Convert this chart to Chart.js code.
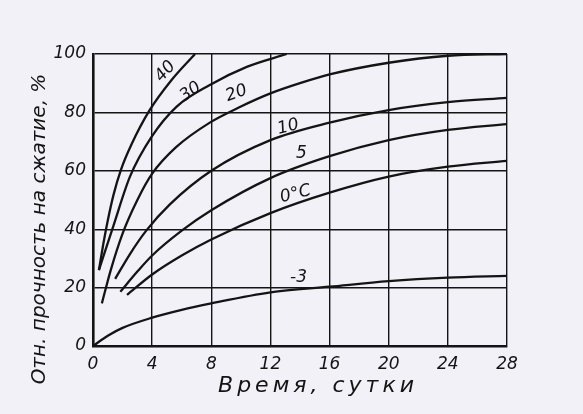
<!DOCTYPE html>
<html>
<head>
<meta charset="utf-8">
<script src="https://cdn.jsdelivr.net/npm/chart.js@4.4.1/dist/chart.umd.min.js"></script>
<style>
  html, body { margin: 0; padding: 0; background: #f2f1f7; }
  #wrap { width: 583px; height: 414px; }
</style>
</head>
<body>
<div id="wrap"><canvas id="strengthChart" width="583" height="414"></canvas></div>
<script>
// time, days
const xTicks = [0, 4, 8, 12, 16, 20, 24, 28];
const yTicks = [0, 20, 40, 60, 80, 100];

// curves: days and strength % for each temperature
const days40 = [0.4, 0.7, 1.0, 1.4, 1.9, 2.6, 3.8, 5.3, 6.9];
const str40  = [26, 35, 43, 52, 60.5, 69, 80.5, 91, 100];

const days30 = [0.4, 1.37, 2.5, 3.97, 5.66, 7.9, 10.4, 13.1];
const str30  = [26, 41, 58, 71.7, 82, 89.4, 95.6, 100];

const days20 = [0.6, 1.2, 2.0, 3.0, 4.0, 5.6, 7.9, 10, 12, 14, 16, 20, 24, 28];
const str20  = [14.6, 26, 38.5, 50, 59, 68, 76.5, 82, 86.5, 90, 93, 97, 99.4, 100];

const days10 = [1.5, 2.5, 3.6, 5.2, 8, 12, 16, 20, 24, 28];
const str10  = [23, 31.5, 39.5, 48.5, 60, 70.5, 76.5, 80.8, 83.5, 85];

const days5 = [1.85, 3, 4, 6, 8, 12, 16, 20, 24, 28];
const str5  = [18.6, 25.5, 31, 39.5, 46.5, 57.5, 65, 70.5, 74, 76];

const days0 = [2.3, 4, 6, 8, 12, 16, 20, 24, 28];
const str0  = [17.5, 24.5, 31, 36.5, 45.5, 52.5, 58, 61.4, 63.4];

const daysM3 = [0, 1, 2, 4, 6, 8, 12, 16, 20, 24, 28];
const strM3  = [0, 3.5, 6.2, 9.7, 12.4, 14.6, 18.4, 20.3, 22.2, 23.4, 24];

const curveNames = ["40", "30", "20", "10", "5", "0°C", "-3"];
const curveDays = [days40, days30, days20, days10, days5, days0, daysM3];
const curveStr = [str40, str30, str20, str10, str5, str0, strM3];

// where each temperature is written next to its curve (days, %, angle deg)
const labelAt = [
  [4.9, 94, -48],
  [6.6, 87, -35],
  [9.7, 86.5, -20],
  [13.2, 75, -14],
  [14.1, 66, 0],
  [13.7, 52, -14],
  [13.9, 23.5, 0]
];

const ink = "#141414";
const handFont = "'DejaVu Sans', sans-serif";

const datasets = curveNames.map(function (name, i) {
  return {
    label: name,
    data: curveDays[i].map(function (d, j) { return { x: d, y: curveStr[i][j] }; }),
    borderColor: ink,
    borderWidth: 2.3,
    pointRadius: 0,
    cubicInterpolationMode: "monotone",
    fill: false
  };
});

const curveLabels = {
  id: "curveLabels",
  afterDatasetsDraw(chart) {
    const ctx = chart.ctx;
    const xs = chart.scales.x, ys = chart.scales.y;
    ctx.save();
    ctx.fillStyle = ink;
    ctx.font = "italic 17px " + handFont;
    ctx.textAlign = "center";
    ctx.textBaseline = "middle";
    curveNames.forEach(function (name, i) {
      const p = labelAt[i];
      ctx.save();
      ctx.translate(xs.getPixelForValue(p[0]), ys.getPixelForValue(p[1]));
      ctx.rotate(p[2] * Math.PI / 180);
      ctx.fillText(name, 0, 0);
      ctx.restore();
    });
    ctx.restore();
  }
};

const axisTitles = {
  id: "axisTitles",
  afterDraw(chart) {
    const ctx = chart.ctx;
    const a = chart.chartArea;
    ctx.save();
    ctx.fillStyle = ink;
    ctx.textAlign = "center";
    ctx.textBaseline = "middle";
    ctx.font = "italic 22px " + handFont;
    ctx.letterSpacing = "4px";
    ctx.fillText("Время, сутки", a.left + 225, a.bottom + 40);
    ctx.letterSpacing = "0px";
    ctx.font = "italic 20px " + handFont;
    ctx.translate(a.left - 53, a.top + 175);
    ctx.rotate(-Math.PI / 2);
    ctx.fillText("Отн. прочность на сжатие, %", 0, 0);
    ctx.restore();
  }
};

const ctx = document.getElementById("strengthChart").getContext("2d");
const strengthChart = new Chart(ctx, {
  type: "line",
  data: { datasets: datasets },
  options: {
    responsive: false,
    animation: false,
    layout: { padding: { top: 54, right: 76, left: 0, bottom: 0 } },
    plugins: {
      legend: { display: false },
      tooltip: { enabled: false }
    },
    scales: {
      x: {
        type: "linear",
        min: 0,
        max: 28,
        afterBuildTicks: function (s) { s.ticks = xTicks.map(function (v) { return { value: v }; }); },
        afterFit: function (s) { s.height = 68; },
        ticks: {
          color: ink,
          padding: 8,
          font: { family: handFont, size: 17, style: "italic" }
        },
        grid: { color: ink, lineWidth: 1.4, drawTicks: false },
        border: { color: ink, width: 2.6 }
      },
      y: {
        min: 0,
        max: 100,
        afterBuildTicks: function (s) { s.ticks = yTicks.map(function (v) { return { value: v }; }); },
        afterFit: function (s) { s.width = 93; },
        ticks: {
          color: ink,
          padding: 7,
          font: { family: handFont, size: 17, style: "italic" }
        },
        grid: { color: ink, lineWidth: 1.4, drawTicks: false },
        border: { color: ink, width: 2.6 }
      }
    }
  },
  plugins: [curveLabels, axisTitles]
});
</script>
</body>
</html>
